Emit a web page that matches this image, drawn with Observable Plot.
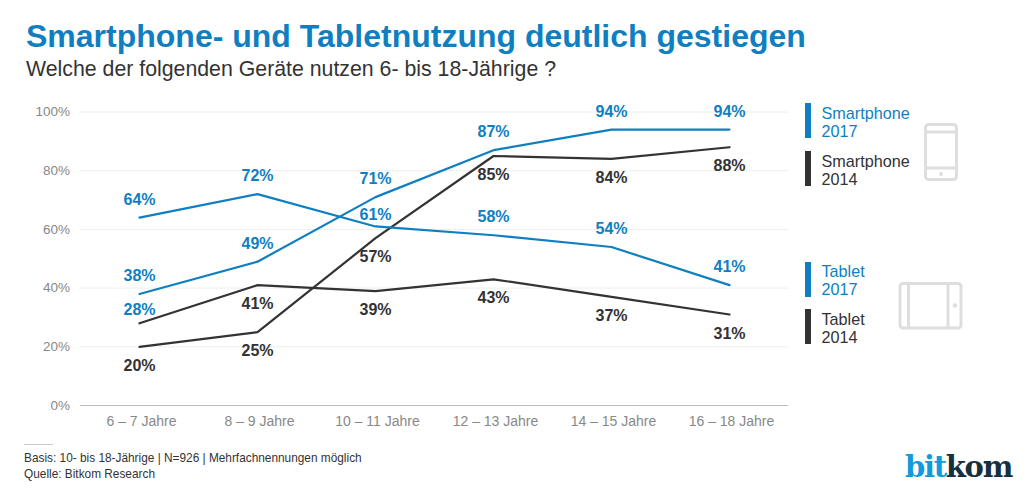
<!DOCTYPE html>
<html><head><meta charset="utf-8">
<script src="https://cdn.jsdelivr.net/npm/d3@7"></script>
<script src="https://cdn.jsdelivr.net/npm/@observablehq/plot@0.6"></script>
<style>
html,body{margin:0;padding:0;background:#fff;font-family:"Liberation Sans",Arial,sans-serif}
#page{position:relative;width:1032px;height:500px;overflow:hidden}
#page>*{position:absolute}
h1{margin:0;left:26px;top:18px;font-size:32px;line-height:36px;font-weight:700;color:#0f7fc1;white-space:nowrap}
h2{margin:0;left:26px;top:57px;font-size:21.3px;line-height:24px;font-weight:400;color:#333;white-space:nowrap}
#chart{left:0;top:90px}
.bar{width:6px;height:35px}
.lg{left:821.5px;font-size:16.2px;line-height:17.5px}
.rule{left:24px;top:444px;width:29px;height:1px;background:#c8c8c8}
.cap{left:24px;top:451px;font-size:11.85px;line-height:15.5px;color:#333;white-space:nowrap}
.logo{left:905px;top:447px;font-family:"DejaVu Serif",serif;font-weight:700;font-size:29px;letter-spacing:-1.3px;line-height:40px;color:#16303f;white-space:nowrap}
.logo span{color:#0f9bdc}
svg.icon{fill:none;stroke:#dedede;stroke-width:3}
</style></head><body>
<div id="page">
<h1>Smartphone- und Tabletnutzung deutlich gestiegen</h1>
<h2>Welche der folgenden Geräte nutzen 6- bis 18-Jährige ?</h2>
<div id="chart"></div>
<div class="bar" style="left:805px;top:103px;background:#0f7fc1"></div>
<div class="lg" style="top:105px;color:#0f7fc1">Smartphone<br>2017</div>
<div class="bar" style="left:805px;top:151px;background:#333"></div>
<div class="lg" style="top:153px;color:#333">Smartphone<br>2014</div>
<div class="bar" style="left:805px;top:262px;background:#0f7fc1"></div>
<div class="lg" style="top:263px;color:#0f7fc1">Tablet<br>2017</div>
<div class="bar" style="left:805px;top:309px;background:#333"></div>
<div class="lg" style="top:311px;color:#333">Tablet<br>2014</div>
<svg class="icon" style="left:920px;top:118px" width="44" height="66">
<rect x="5.5" y="6.5" width="31" height="55" rx="3"/><path d="M5.5 14H36.5M5.5 50H36.5"/><circle cx="21" cy="56" r="2" fill="#dedede" stroke="none"/></svg>
<svg class="icon" style="left:895px;top:278px" width="72" height="54">
<rect x="5" y="5.5" width="61" height="44.5" rx="3"/><path d="M13.5 5.5V50M53 5.5V50"/><circle cx="60" cy="27.5" r="2.2" fill="#dedede" stroke="none"/></svg>
<div class="rule"></div>
<div class="cap">Basis: 10- bis 18-Jährige | N=926 | Mehrfachnennungen möglich<br>Quelle: Bitkom Research</div>
<div class="logo"><span>bit</span>kom</div>
</div>
<script>
const categories = ["6 – 7 Jahre","8 – 9 Jahre","10 – 11 Jahre","12 – 13 Jahre","14 – 15 Jahre","16 – 18 Jahre"];
const smartphone2017 = [38,49,71,87,94,94];
const tablet2017 = [64,72,61,58,54,41];
const smartphone2014 = [20,25,57,85,84,88];
const tablet2014 = [28,41,39,43,37,31];
const yTicks = [0,20,40,60,80,100];
const blue = "#0f7fc1", dark = "#333333";
const rows = (values, series, color, dy) => values.map((value,i)=>({category:categories[i],value,series,color,dy}));
const data = [
  ...rows(tablet2014,"Tablet 2014",dark,19),
  ...rows(smartphone2014,"Smartphone 2014",dark,19),
  ...rows(tablet2017,"Tablet 2017",blue,-18),
  ...rows(smartphone2017,"Smartphone 2017",blue,-18)
];
// 28% sits above its line and is set in blue in the original
const t28 = data.find(d=>d.series==="Tablet 2014"&&d.value===28);
t28.dy=-13; t28.labelColor=blue;
data.find(d=>d.series==="Tablet 2017"&&d.value===61).dy=-12;
const labelMark = (dy)=>Plot.text(data.filter(d=>d.dy===dy),{x:"category",y:"value",text:d=>d.value+"%",dy,fill:d=>d.labelColor||d.color,fontSize:16,fontWeight:700});
const plot = Plot.plot({
  width:1032,height:340,marginTop:21.5,marginBottom:25,marginLeft:80,marginRight:244,
  style:{fontFamily:'"Liberation Sans",Arial,sans-serif',background:"transparent"},
  x:{domain:categories,type:"point",padding:0.5,label:null,tickSize:0},
  y:{domain:[0,100],label:null},
  color:{type:"identity"},
  marks:[
    Plot.ruleY(yTicks.filter(v=>v>0),{y:d=>d,stroke:"#eeeeee",strokeWidth:1}),
    Plot.ruleY([0],{stroke:"#bbbbbb",strokeWidth:1}),
    Plot.axisY({ticks:yTicks,tickSize:0,tickPadding:10.5,tickFormat:d=>d+"%",fontSize:13.5,fill:"#888",label:null}),
    Plot.axisX({tickSize:0,tickPadding:11,dx:2,fontSize:14,fill:"#888",label:null}),
    Plot.line(data,{x:"category",y:"value",z:"series",stroke:"color",strokeWidth:2.2,curve:"linear"}),
    ...[...new Set(data.map(d=>d.dy))].map(labelMark)
  ]
});
document.getElementById("chart").append(plot);
</script>
</body></html>
